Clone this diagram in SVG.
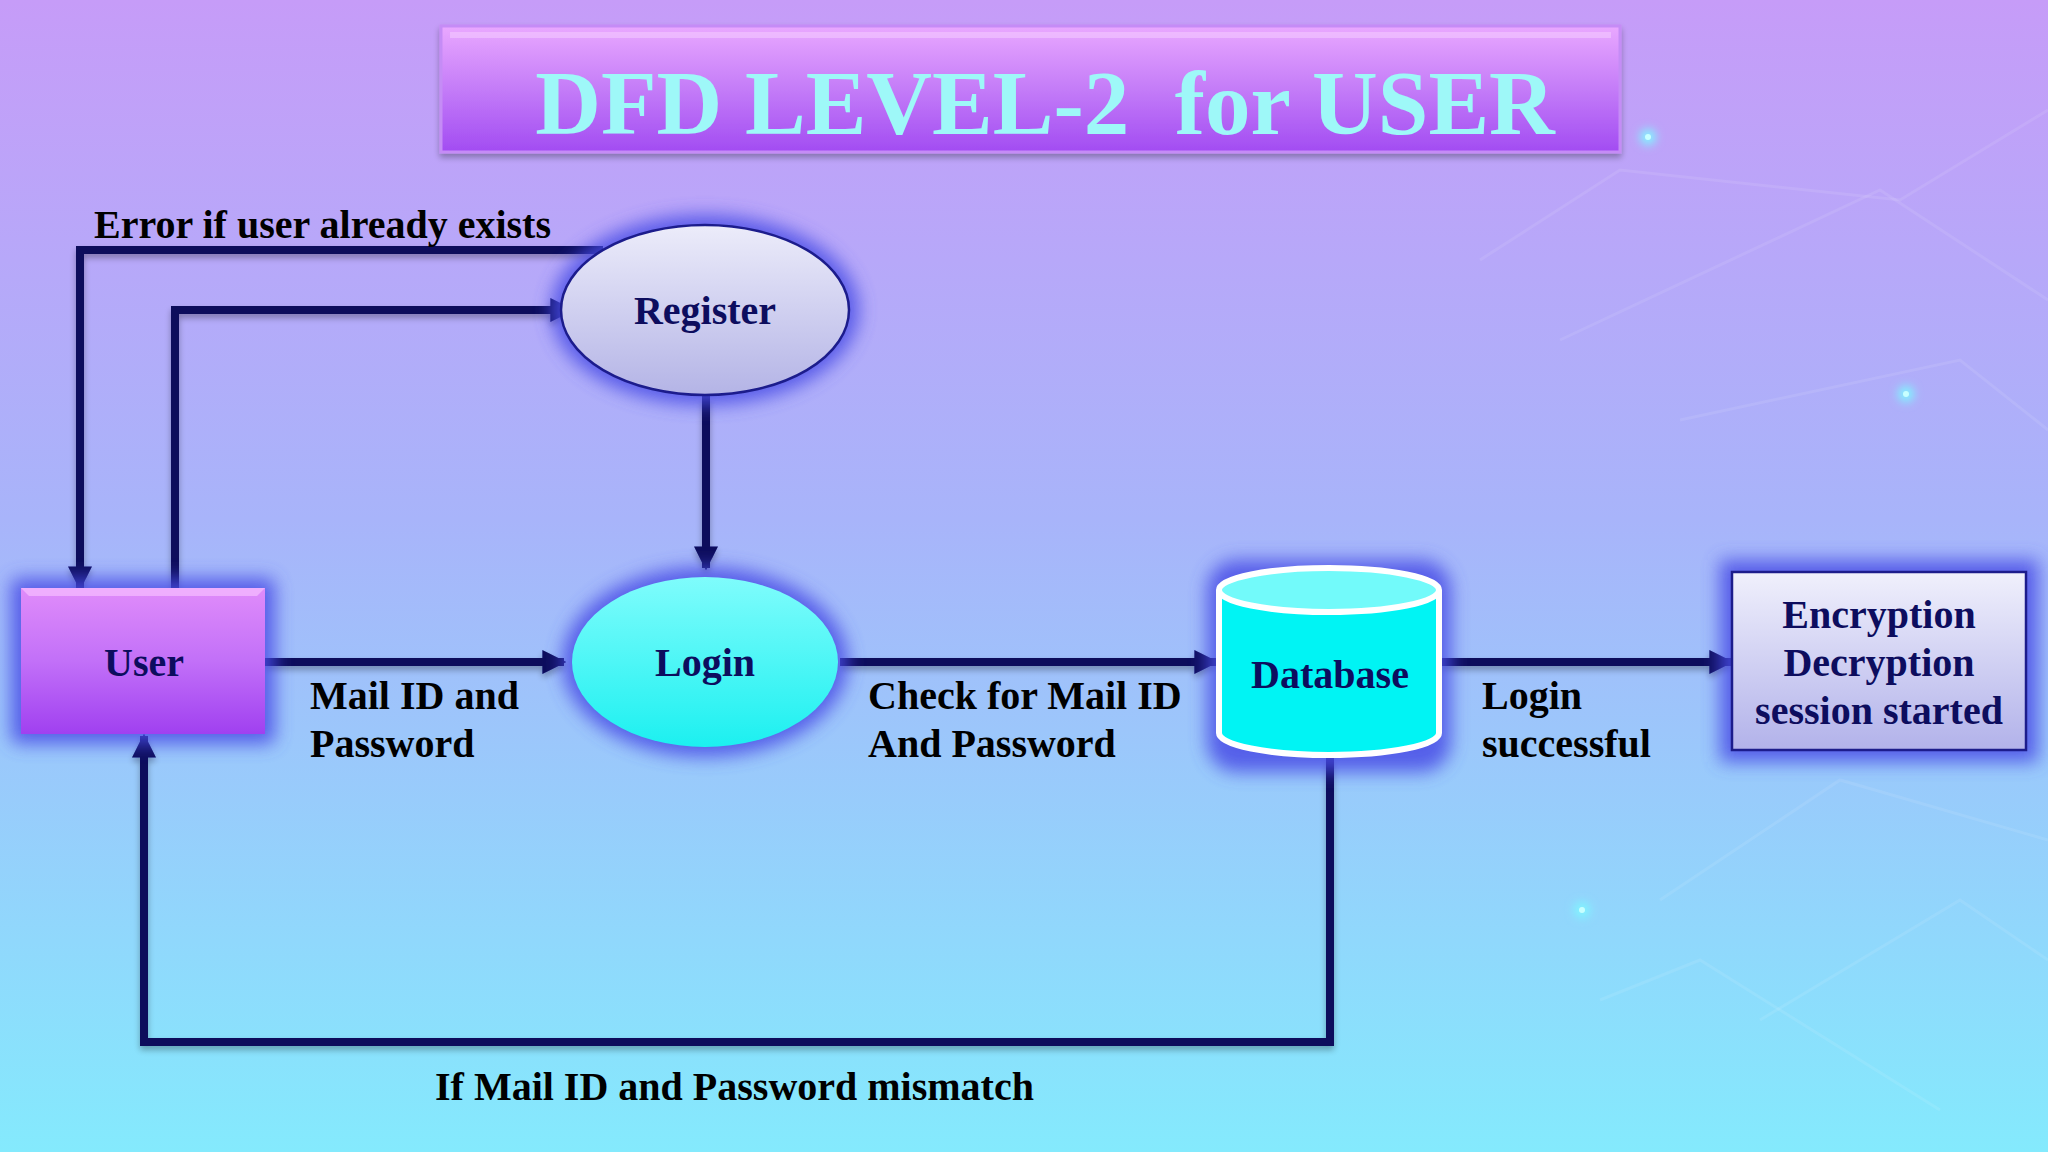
<svg xmlns="http://www.w3.org/2000/svg" width="2048" height="1152" viewBox="0 0 2048 1152">
<defs>
  <linearGradient id="bg" x1="0" y1="0" x2="0" y2="1">
    <stop offset="0" stop-color="#c69cf8"/>
    <stop offset="0.45" stop-color="#a8b4fa"/>
    <stop offset="1" stop-color="#84eafd"/>
  </linearGradient>
  <linearGradient id="titleFill" x1="0" y1="0" x2="0" y2="1">
    <stop offset="0" stop-color="#e9a8ff"/>
    <stop offset="0.5" stop-color="#c47cf8"/>
    <stop offset="1" stop-color="#a24cf2"/>
  </linearGradient>
  <linearGradient id="userFill" x1="0" y1="0" x2="0" y2="1">
    <stop offset="0" stop-color="#e08cfa"/>
    <stop offset="0.5" stop-color="#c270f8"/>
    <stop offset="1" stop-color="#a040f0"/>
  </linearGradient>
  <linearGradient id="regFill" x1="0" y1="0" x2="0" y2="1">
    <stop offset="0" stop-color="#ececfa"/>
    <stop offset="1" stop-color="#b4b4e6"/>
  </linearGradient>
  <linearGradient id="loginFill" x1="0" y1="0" x2="0" y2="1">
    <stop offset="0" stop-color="#7ffcfc"/>
    <stop offset="1" stop-color="#1cf0f0"/>
  </linearGradient>
  <linearGradient id="encFill" x1="0" y1="0" x2="0" y2="1">
    <stop offset="0" stop-color="#f0f0fc"/>
    <stop offset="1" stop-color="#b2b2ea"/>
  </linearGradient>
  <filter id="glow" x="-30%" y="-30%" width="160%" height="160%">
    <feGaussianBlur stdDeviation="9"/>
  </filter>
  <filter id="shadow" x="-10%" y="-10%" width="120%" height="140%">
    <feGaussianBlur in="SourceAlpha" stdDeviation="3"/>
    <feOffset dx="0" dy="4" result="b"/>
    <feComponentTransfer><feFuncA type="linear" slope="0.3"/></feComponentTransfer>
    <feMerge><feMergeNode/><feMergeNode in="SourceGraphic"/></feMerge>
  </filter>
  <filter id="dot" x="-200%" y="-200%" width="500%" height="500%">
    <feGaussianBlur stdDeviation="5"/>
  </filter>
  <marker id="arrow" viewBox="0 0 10 10" refX="9" refY="5" markerWidth="3" markerHeight="3" orient="auto" markerUnits="strokeWidth">
    <path d="M0,0 L10,5 L0,10 z" fill="#0a0a5c"/>
  </marker>
  <style>
    .lbl { font-family: "Liberation Serif", "Times New Roman", serif; font-weight: bold; fill: #000; font-size: 40px; }
    .node { font-family: "Liberation Serif", "Times New Roman", serif; font-weight: bold; fill: #0d0d5e; font-size: 40px; text-anchor: middle; }
    .conn { fill: none; stroke: #0a0a5c; stroke-width: 8; stroke-linejoin: miter; }
    .halo { fill: #4a4ee6; opacity: 0.85; }
    .deco { fill: none; stroke: #ffffff; stroke-opacity: 0.09; stroke-width: 3; }
  </style>
</defs>

<rect width="2048" height="1152" fill="url(#bg)"/>

<!-- faint background decoration -->
<g id="background-decoration">
  <path class="deco" d="M1480 260 L1620 170 L1900 200 L2048 110"/>
  <path class="deco" d="M1560 340 L1880 190 L2048 300"/>
  <path class="deco" d="M1680 420 L1960 360 L2048 430"/>
  <path class="deco" d="M1660 900 L1840 780 L2048 840"/>
  <path class="deco" d="M1600 1000 L1700 960 L1940 1110"/>
  <path class="deco" d="M1760 1020 L1960 900 L2048 960"/>
  <circle cx="1648" cy="137" r="8" fill="#7ff6ff" filter="url(#dot)"/>
  <circle cx="1648" cy="137" r="3" fill="#c8ffff"/>
  <circle cx="1906" cy="394" r="8" fill="#7ff6ff" filter="url(#dot)"/>
  <circle cx="1906" cy="394" r="3" fill="#c8ffff"/>
  <circle cx="1582" cy="910" r="8" fill="#7ff6ff" filter="url(#dot)"/>
  <circle cx="1582" cy="910" r="3" fill="#c8ffff"/>
</g>

<!-- title -->
<g id="title" filter="url(#shadow)">
  <rect x="441" y="26" width="1179" height="126" fill="url(#titleFill)" stroke="#c58cf6" stroke-width="3"/>
  <rect x="450" y="32" width="1161" height="6" fill="#f4c8ff" opacity="0.6"/>
  <text x="1045" y="134" text-anchor="middle" xml:space="preserve" font-family="'Liberation Serif', 'Times New Roman', serif" font-weight="bold" font-size="91" fill="#9ef8f8">DFD LEVEL-2  for USER</text>
</g>

<!-- connectors -->
<g id="connectors" filter="url(#shadow)">
  <path class="conn" d="M265 662 H564" marker-end="url(#arrow)"/>
  <path class="conn" d="M840 662 H1216" marker-end="url(#arrow)"/>
  <path class="conn" d="M1441 662 H1731" marker-end="url(#arrow)"/>
  <path class="conn" d="M706 396 V568" marker-end="url(#arrow)"/>
  <path class="conn" d="M175 588 V310 H572" marker-end="url(#arrow)"/>
  <path class="conn" d="M603 250 H80 V588" marker-end="url(#arrow)"/>
  <path class="conn" d="M1330 757 V1042 H144 V736" marker-end="url(#arrow)"/>
</g>

<!-- nodes -->
<g id="node-user">
  <rect class="halo" x="11" y="578" width="264" height="166" rx="8" filter="url(#glow)"/>
  <rect x="21" y="588" width="244" height="146" fill="url(#userFill)"/>
  <path d="M21 588 H265 L257 596 H29 Z" fill="#f2b8ff" opacity="0.8"/>
  <text class="node" x="144" y="676">User</text>
</g>

<g id="node-register">
  <ellipse class="halo" cx="705" cy="310" rx="154" ry="95" filter="url(#glow)"/>
  <ellipse cx="705" cy="310" rx="144" ry="85" fill="url(#regFill)" stroke="#1c1c8c" stroke-width="2.5"/>
  <text class="node" x="705" y="324">Register</text>
</g>

<g id="node-login">
  <ellipse class="halo" cx="705" cy="662" rx="143" ry="95" filter="url(#glow)"/>
  <ellipse cx="705" cy="662" rx="133" ry="85" fill="url(#loginFill)"/>
  <text class="node" x="705" y="676">Login</text>
</g>

<g id="node-database">
  <rect class="halo" x="1207" y="560" width="244" height="212" rx="30" filter="url(#glow)"/>
  <path d="M1219 590 V733 A110 22 0 0 0 1439 733 V590" fill="#00f4f4" stroke="#ffffff" stroke-width="6"/>
  <ellipse cx="1329" cy="590" rx="110" ry="22" fill="#72fafa" stroke="#ffffff" stroke-width="6"/>
  <text class="node" x="1330" y="688">Database</text>
</g>

<g id="node-encryption">
  <rect class="halo" x="1720" y="560" width="318" height="202" filter="url(#glow)"/>
  <rect x="1732" y="572" width="294" height="178" fill="url(#encFill)" stroke="#1c1c8c" stroke-width="2.5"/>
  <text class="node" x="1879" y="628">Encryption</text>
  <text class="node" x="1879" y="676">Decryption</text>
  <text class="node" x="1879" y="724">session started</text>
</g>

<!-- connector labels -->
<g id="labels">
  <text class="lbl" x="94" y="238">Error if user already exists</text>
  <text class="lbl" x="310" y="709">Mail ID and</text>
  <text class="lbl" x="310" y="757">Password</text>
  <text class="lbl" x="868" y="709">Check for Mail ID</text>
  <text class="lbl" x="868" y="757">And Password</text>
  <text class="lbl" x="1482" y="709">Login</text>
  <text class="lbl" x="1482" y="757">successful</text>
  <text class="lbl" x="435" y="1100">If Mail ID and Password mismatch</text>
</g>
</svg>
